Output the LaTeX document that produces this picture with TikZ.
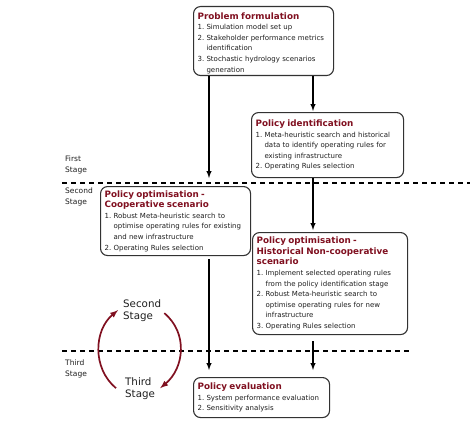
\documentclass[tikz,border=0pt]{standalone}
\usepackage{fontspec}
\setmainfont{DejaVu Sans}
\definecolor{stagered}{RGB}{128,16,32}
\definecolor{boxgray}{RGB}{50,50,50}
\definecolor{textgray}{RGB}{30,30,30}
\newcommand{\boxtitle}[1]{{\color{stagered}\bfseries\fontsize{8.8}{10.6}\selectfont #1\par}}
\newcommand{\boxitem}[2]{\par\noindent\makebox[9pt][l]{#1.}#2}
\newcommand{\boxline}[1]{\par\noindent\hspace*{9pt}#1}
\tikzset{
  stagebox/.style={draw=boxgray, line width=1.1pt, rounded corners=7pt, anchor=north west,
    inner xsep=4pt, inner ysep=2pt, align=left, text=textgray,
    font=\fontsize{7}{10.6}\selectfont},
  flowarrow/.style={line width=1.4pt, -latex},
  stageline/.style={line width=1.4pt, dash pattern=on 5pt off 4pt},
  cyclearrow/.style={stagered, line width=1.7pt, -latex},
  stagelabel/.style={anchor=base west, inner sep=0pt, align=left, text=textgray,
    font=\fontsize{7.5}{10.5}\selectfont},
  cyclelabel/.style={anchor=base west, inner sep=0pt, align=left, text=textgray,
    font=\fontsize{10.3}{12}\selectfont}
}
\begin{document}
\begin{tikzpicture}[x=1pt,y=-1pt]
        \useasboundingbox (0,0) rectangle (474,428);
        \coordinate (leftlane) at (209,0);
        \coordinate (rightlane) at (313,0);

        % stage boxes
        \node[stagebox, text width=132pt, minimum height=68pt] (pform) at (193,6) {%
          \boxtitle{\rule{0pt}{10.5pt}Problem formulation}%
          \boxitem{1}{Simulation model set up}%
          \boxitem{2}{Stakeholder performance metrics}%
          \boxline{identification}%
          \boxitem{3}{Stochastic hydrology scenarios}%
          \boxline{generation}};
        \node[stagebox, text width=144pt, minimum height=65pt] (pident) at (251,112) {%
          \boxtitle{Policy identification}%
          \boxitem{1}{Meta-heuristic search and historical}%
          \boxline{data to identify operating rules for}%
          \boxline{existing infrastructure}%
          \boxitem{2}{Operating Rules selection}};
        \node[stagebox, text width=142pt, minimum height=69pt] (pcoop) at (100,186) {%
          \boxtitle{Policy optimisation -\\Cooperative scenario}%
          \boxitem{1}{Robust Meta-heuristic search to}%
          \boxline{optimise operating rules for existing}%
          \boxline{and new infrastructure}%
          \boxitem{2}{Operating Rules selection}};
        \node[stagebox, text width=147pt, minimum height=102pt] (pnoncoop) at (252,232) {%
          \boxtitle{Policy optimisation -\\Historical Non-cooperative\\scenario}%
          \boxitem{1}{Implement selected operating rules}%
          \boxline{from the policy identification stage}%
          \boxitem{2}{Robust Meta-heuristic search to}%
          \boxline{optimise operating rules for new}%
          \boxline{infrastructure}%
          \boxitem{3}{Operating Rules selection}};
        \node[stagebox, text width=128pt, minimum height=40pt] (peval) at (193,377) {%
          \boxtitle{Policy evaluation}%
          \boxitem{1}{System performance evaluation}%
          \boxitem{2}{Sensitivity analysis}};

        % stage separators
        \draw[stageline] (62,183) -- (470,183);
        \draw[stageline] (62,351) -- (411,351);
        \node[stagelabel] (lfirst) at (65,172) {First\\Stage};
        \node[stagelabel] (lsecond) at (65,204) {Second\\Stage};
        \node[stagelabel] (lthird) at (65,376) {Third\\Stage};

        % flow
        \draw[flowarrow, shorten >=8pt] (pform.south -| leftlane) -- (pcoop.north -| leftlane);
        \draw[flowarrow, shorten >=1pt] (pform.south -| rightlane) -- (pident.north -| rightlane);
        \draw[flowarrow, shorten >=2pt] (pident.south -| rightlane) -- (pnoncoop.north -| rightlane);
        \draw[flowarrow, shorten <=3pt, shorten >=7pt] (pcoop.south -| leftlane) -- (peval.north -| leftlane);
        \draw[flowarrow, shorten <=6pt, shorten >=7pt] (pnoncoop.south -| rightlane) -- (peval.north -| rightlane);

        % cycle between second and third stage
        \node[cyclelabel] (csecond) at (123,319) {Second\\Stage};
        \node[cyclelabel] (cthird) at (125,397) {Third\\Stage};
        \draw[cyclearrow] ([xshift=-9pt]cthird.west) .. controls +(-24,-20) and +(-24,20) .. ([xshift=-5pt]csecond.west);
        \draw[cyclearrow] ([xshift=3pt,yshift=-3pt]csecond.east) .. controls +(24,20) and +(24,-20) .. ([xshift=5pt]cthird.east);
\end{tikzpicture}
\end{document}
